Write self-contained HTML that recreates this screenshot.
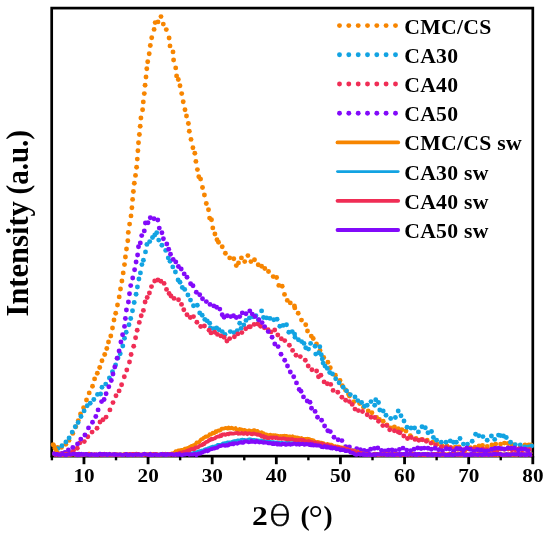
<!DOCTYPE html>
<html lang="en"><head><meta charset="utf-8"><title>XRD patterns</title>
<style>
html,body{margin:0;padding:0;background:#fff;}
body{width:550px;height:533px;overflow:hidden;}
svg{display:block;}
</style></head>
<body>
<svg width="550" height="533" viewBox="0 0 550 533">
<rect width="550" height="533" fill="#fff"/>
<g stroke="#000" fill="none">
<rect x="51.7" y="8.1" width="481.09999999999997" height="448.04999999999995" stroke-width="2.7"/>
<line x1="51.90" y1="456.15" x2="51.90" y2="460.3" stroke-width="2.4"/>
<line x1="83.96" y1="456.15" x2="83.96" y2="464.2" stroke-width="2.8"/>
<line x1="116.02" y1="456.15" x2="116.02" y2="460.3" stroke-width="2.4"/>
<line x1="148.08" y1="456.15" x2="148.08" y2="464.2" stroke-width="2.8"/>
<line x1="180.14" y1="456.15" x2="180.14" y2="460.3" stroke-width="2.4"/>
<line x1="212.20" y1="456.15" x2="212.20" y2="464.2" stroke-width="2.8"/>
<line x1="244.26" y1="456.15" x2="244.26" y2="460.3" stroke-width="2.4"/>
<line x1="276.32" y1="456.15" x2="276.32" y2="464.2" stroke-width="2.8"/>
<line x1="308.38" y1="456.15" x2="308.38" y2="460.3" stroke-width="2.4"/>
<line x1="340.44" y1="456.15" x2="340.44" y2="464.2" stroke-width="2.8"/>
<line x1="372.50" y1="456.15" x2="372.50" y2="460.3" stroke-width="2.4"/>
<line x1="404.56" y1="456.15" x2="404.56" y2="464.2" stroke-width="2.8"/>
<line x1="436.62" y1="456.15" x2="436.62" y2="460.3" stroke-width="2.4"/>
<line x1="468.68" y1="456.15" x2="468.68" y2="464.2" stroke-width="2.8"/>
<line x1="500.74" y1="456.15" x2="500.74" y2="460.3" stroke-width="2.4"/>
<line x1="532.80" y1="456.15" x2="532.80" y2="464.2" stroke-width="2.8"/>
</g>
<g fill="#F78500"><circle cx="53.1" cy="444.8" r="2.45"/><circle cx="55.0" cy="448.6" r="2.45"/><circle cx="57.5" cy="447.4" r="2.45"/><circle cx="61.4" cy="447.4" r="2.45"/><circle cx="65.8" cy="444.2" r="2.45"/><circle cx="69.0" cy="440.4" r="2.45"/><circle cx="72.8" cy="433.4" r="2.45"/><circle cx="75.8" cy="426.8" r="2.45"/><circle cx="78.3" cy="420.6" r="2.45"/><circle cx="80.5" cy="414.0" r="2.45"/><circle cx="83.6" cy="407.8" r="2.45"/><circle cx="86.5" cy="400.0" r="2.45"/><circle cx="89.2" cy="392.9" r="2.45"/><circle cx="92.5" cy="386.3" r="2.45"/><circle cx="94.6" cy="378.9" r="2.45"/><circle cx="97.3" cy="373.3" r="2.45"/><circle cx="99.7" cy="367.5" r="2.45"/><circle cx="102.0" cy="360.7" r="2.45"/><circle cx="104.7" cy="354.5" r="2.45"/><circle cx="106.8" cy="348.5" r="2.45"/><circle cx="108.5" cy="342.0" r="2.45"/><circle cx="110.8" cy="336.0" r="2.45"/><circle cx="112.5" cy="328.0" r="2.45"/><circle cx="114.0" cy="320.0" r="2.45"/><circle cx="115.7" cy="313.2" r="2.45"/><circle cx="117.5" cy="305.0" r="2.45"/><circle cx="119.2" cy="296.9" r="2.45"/><circle cx="120.5" cy="289.0" r="2.45"/><circle cx="121.9" cy="281.0" r="2.45"/><circle cx="123.2" cy="272.9" r="2.45"/><circle cx="124.5" cy="264.6" r="2.45"/><circle cx="125.4" cy="257.0" r="2.45"/><circle cx="126.5" cy="249.0" r="2.45"/><circle cx="127.8" cy="240.7" r="2.45"/><circle cx="128.3" cy="232.4" r="2.45"/><circle cx="129.6" cy="224.1" r="2.45"/><circle cx="131.0" cy="215.9" r="2.45"/><circle cx="131.9" cy="207.8" r="2.45"/><circle cx="132.6" cy="199.4" r="2.45"/><circle cx="133.4" cy="191.5" r="2.45"/><circle cx="134.3" cy="183.3" r="2.45"/><circle cx="135.5" cy="175.4" r="2.45"/><circle cx="136.6" cy="167.2" r="2.45"/><circle cx="137.3" cy="159.1" r="2.45"/><circle cx="137.9" cy="150.8" r="2.45"/><circle cx="138.5" cy="142.8" r="2.45"/><circle cx="139.4" cy="134.5" r="2.45"/><circle cx="140.2" cy="126.3" r="2.45"/><circle cx="140.9" cy="118.0" r="2.45"/><circle cx="142.6" cy="109.8" r="2.45"/><circle cx="143.3" cy="101.9" r="2.45"/><circle cx="144.3" cy="93.6" r="2.45"/><circle cx="145.1" cy="85.3" r="2.45"/><circle cx="146.0" cy="77.0" r="2.45"/><circle cx="146.8" cy="68.8" r="2.45"/><circle cx="147.7" cy="61.7" r="2.45"/><circle cx="149.2" cy="53.8" r="2.45"/><circle cx="150.3" cy="45.5" r="2.45"/><circle cx="151.7" cy="37.8" r="2.45"/><circle cx="154.1" cy="29.4" r="2.45"/><circle cx="155.2" cy="22.6" r="2.45"/><circle cx="158.0" cy="21.9" r="2.45"/><circle cx="161.0" cy="16.6" r="2.45"/><circle cx="163.3" cy="24.1" r="2.45"/><circle cx="166.3" cy="29.6" r="2.45"/><circle cx="169.1" cy="38.0" r="2.45"/><circle cx="170.0" cy="45.9" r="2.45"/><circle cx="173.0" cy="51.9" r="2.45"/><circle cx="173.6" cy="60.0" r="2.45"/><circle cx="175.7" cy="67.9" r="2.45"/><circle cx="176.6" cy="75.9" r="2.45"/><circle cx="178.3" cy="79.5" r="2.45"/><circle cx="180.0" cy="85.7" r="2.45"/><circle cx="181.7" cy="93.6" r="2.45"/><circle cx="183.2" cy="101.8" r="2.45"/><circle cx="185.0" cy="109.8" r="2.45"/><circle cx="186.5" cy="116.0" r="2.45"/><circle cx="188.4" cy="123.5" r="2.45"/><circle cx="189.3" cy="131.3" r="2.45"/><circle cx="191.0" cy="139.4" r="2.45"/><circle cx="192.9" cy="147.7" r="2.45"/><circle cx="194.8" cy="153.3" r="2.45"/><circle cx="195.9" cy="161.4" r="2.45"/><circle cx="197.4" cy="169.6" r="2.45"/><circle cx="198.8" cy="176.8" r="2.45"/><circle cx="200.6" cy="179.1" r="2.45"/><circle cx="202.5" cy="187.5" r="2.45"/><circle cx="204.4" cy="195.0" r="2.45"/><circle cx="206.3" cy="203.5" r="2.45"/><circle cx="208.5" cy="209.7" r="2.45"/><circle cx="209.6" cy="218.1" r="2.45"/><circle cx="211.5" cy="219.8" r="2.45"/><circle cx="212.8" cy="227.9" r="2.45"/><circle cx="214.9" cy="234.0" r="2.45"/><circle cx="217.0" cy="239.7" r="2.45"/><circle cx="218.5" cy="242.3" r="2.45"/><circle cx="222.2" cy="246.8" r="2.45"/><circle cx="225.4" cy="253.2" r="2.45"/><circle cx="229.7" cy="257.9" r="2.45"/><circle cx="233.8" cy="258.8" r="2.45"/><circle cx="238.5" cy="262.9" r="2.45"/><circle cx="236.3" cy="265.6" r="2.45"/><circle cx="241.4" cy="257.9" r="2.45"/><circle cx="244.7" cy="261.6" r="2.45"/><circle cx="247.9" cy="255.6" r="2.45"/><circle cx="250.9" cy="261.6" r="2.45"/><circle cx="254.5" cy="259.7" r="2.45"/><circle cx="258.2" cy="264.8" r="2.45"/><circle cx="261.6" cy="266.3" r="2.45"/><circle cx="264.8" cy="268.5" r="2.45"/><circle cx="268.5" cy="271.5" r="2.45"/><circle cx="273.2" cy="276.6" r="2.45"/><circle cx="276.6" cy="277.5" r="2.45"/><circle cx="278.8" cy="285.4" r="2.45"/><circle cx="282.2" cy="286.3" r="2.45"/><circle cx="284.5" cy="294.4" r="2.45"/><circle cx="287.3" cy="300.4" r="2.45"/><circle cx="290.3" cy="302.9" r="2.45"/><circle cx="294.4" cy="306.0" r="2.45"/><circle cx="294.8" cy="307.9" r="2.45"/><circle cx="298.2" cy="313.2" r="2.45"/><circle cx="301.5" cy="320.1" r="2.45"/><circle cx="305.7" cy="324.8" r="2.45"/><circle cx="307.5" cy="331.0" r="2.45"/><circle cx="311.3" cy="336.1" r="2.45"/><circle cx="313.2" cy="338.5" r="2.45"/><circle cx="316.5" cy="344.0" r="2.45"/><circle cx="320.0" cy="350.5" r="2.45"/><circle cx="323.7" cy="357.5" r="2.45"/><circle cx="327.9" cy="362.2" r="2.45"/><circle cx="330.3" cy="367.8" r="2.45"/><circle cx="335.4" cy="375.3" r="2.45"/><circle cx="340.0" cy="380.4" r="2.45"/><circle cx="342.3" cy="385.7" r="2.45"/><circle cx="345.5" cy="390.0" r="2.45"/><circle cx="348.5" cy="394.1" r="2.45"/><circle cx="349.4" cy="396.0" r="2.45"/><circle cx="354.1" cy="401.6" r="2.45"/><circle cx="359.7" cy="403.5" r="2.45"/><circle cx="363.5" cy="407.2" r="2.45"/><circle cx="368.2" cy="411.0" r="2.45"/><circle cx="371.9" cy="412.8" r="2.45"/><circle cx="376.6" cy="417.5" r="2.45"/><circle cx="379.4" cy="419.4" r="2.45"/><circle cx="383.2" cy="421.3" r="2.45"/><circle cx="386.9" cy="425.0" r="2.45"/><circle cx="390.7" cy="427.9" r="2.45"/><circle cx="394.4" cy="426.9" r="2.45"/><circle cx="398.2" cy="428.8" r="2.45"/><circle cx="401.9" cy="429.7" r="2.45"/><circle cx="406.0" cy="431.0" r="2.45"/><circle cx="410.3" cy="435.7" r="2.45"/><circle cx="416.0" cy="438.5" r="2.45"/><circle cx="421.6" cy="439.4" r="2.45"/><circle cx="427.2" cy="440.3" r="2.45"/><circle cx="432.8" cy="442.2" r="2.45"/><circle cx="437.5" cy="444.1" r="2.45"/><circle cx="442.2" cy="446.0" r="2.45"/><circle cx="446.9" cy="446.0" r="2.45"/><circle cx="450.6" cy="447.8" r="2.45"/><circle cx="455.3" cy="447.3" r="2.45"/><circle cx="459.0" cy="446.9" r="2.45"/><circle cx="464.7" cy="450.6" r="2.45"/><circle cx="470.3" cy="447.8" r="2.45"/><circle cx="475.0" cy="447.3" r="2.45"/><circle cx="479.0" cy="446.0" r="2.45"/><circle cx="482.5" cy="445.4" r="2.45"/><circle cx="487.2" cy="446.5" r="2.45"/><circle cx="491.9" cy="445.0" r="2.45"/><circle cx="495.7" cy="444.1" r="2.45"/><circle cx="500.6" cy="444.1" r="2.45"/><circle cx="504.4" cy="443.1" r="2.45"/><circle cx="508.1" cy="443.5" r="2.45"/><circle cx="511.5" cy="444.3" r="2.45"/><circle cx="514.7" cy="445.0" r="2.45"/><circle cx="520.3" cy="446.0" r="2.45"/><circle cx="525.0" cy="445.0" r="2.45"/><circle cx="528.8" cy="445.0" r="2.45"/><circle cx="531.0" cy="445.0" r="2.45"/></g>
<g fill="#12A3E2"><circle cx="57.9" cy="448.6" r="2.45"/><circle cx="62.0" cy="445.8" r="2.45"/><circle cx="65.9" cy="442.0" r="2.45"/><circle cx="69.1" cy="438.0" r="2.45"/><circle cx="72.2" cy="432.1" r="2.45"/><circle cx="75.3" cy="426.7" r="2.45"/><circle cx="78.1" cy="422.5" r="2.45"/><circle cx="81.0" cy="416.5" r="2.45"/><circle cx="84.1" cy="410.9" r="2.45"/><circle cx="87.2" cy="405.7" r="2.45"/><circle cx="90.2" cy="403.3" r="2.45"/><circle cx="93.8" cy="399.5" r="2.45"/><circle cx="97.5" cy="394.4" r="2.45"/><circle cx="100.6" cy="394.0" r="2.45"/><circle cx="102.0" cy="387.2" r="2.45"/><circle cx="105.7" cy="384.1" r="2.45"/><circle cx="109.4" cy="377.9" r="2.45"/><circle cx="112.5" cy="371.7" r="2.45"/><circle cx="115.6" cy="364.9" r="2.45"/><circle cx="118.0" cy="358.0" r="2.45"/><circle cx="120.2" cy="353.7" r="2.45"/><circle cx="122.8" cy="346.0" r="2.45"/><circle cx="124.5" cy="338.2" r="2.45"/><circle cx="126.2" cy="332.2" r="2.45"/><circle cx="129.0" cy="324.7" r="2.45"/><circle cx="130.7" cy="318.5" r="2.45"/><circle cx="132.5" cy="310.8" r="2.45"/><circle cx="134.2" cy="302.5" r="2.45"/><circle cx="136.1" cy="294.3" r="2.45"/><circle cx="137.4" cy="287.0" r="2.45"/><circle cx="138.9" cy="279.0" r="2.45"/><circle cx="140.4" cy="272.9" r="2.45"/><circle cx="141.9" cy="264.6" r="2.45"/><circle cx="143.4" cy="260.3" r="2.45"/><circle cx="145.5" cy="251.9" r="2.45"/><circle cx="146.9" cy="244.4" r="2.45"/><circle cx="149.7" cy="241.6" r="2.45"/><circle cx="152.5" cy="237.5" r="2.45"/><circle cx="154.8" cy="235.0" r="2.45"/><circle cx="156.7" cy="232.8" r="2.45"/><circle cx="158.7" cy="240.1" r="2.45"/><circle cx="161.9" cy="245.3" r="2.45"/><circle cx="165.7" cy="250.4" r="2.45"/><circle cx="168.3" cy="257.9" r="2.45"/><circle cx="170.0" cy="261.3" r="2.45"/><circle cx="172.8" cy="266.9" r="2.45"/><circle cx="175.4" cy="272.0" r="2.45"/><circle cx="178.1" cy="280.0" r="2.45"/><circle cx="180.0" cy="282.3" r="2.45"/><circle cx="182.3" cy="287.5" r="2.45"/><circle cx="184.7" cy="289.4" r="2.45"/><circle cx="187.9" cy="295.0" r="2.45"/><circle cx="190.5" cy="300.1" r="2.45"/><circle cx="193.5" cy="305.7" r="2.45"/><circle cx="197.3" cy="305.3" r="2.45"/><circle cx="199.7" cy="312.9" r="2.45"/><circle cx="202.2" cy="315.3" r="2.45"/><circle cx="204.8" cy="319.4" r="2.45"/><circle cx="207.2" cy="320.9" r="2.45"/><circle cx="209.7" cy="323.2" r="2.45"/><circle cx="210.4" cy="327.9" r="2.45"/><circle cx="213.8" cy="328.8" r="2.45"/><circle cx="216.6" cy="327.9" r="2.45"/><circle cx="219.0" cy="329.7" r="2.45"/><circle cx="222.2" cy="331.6" r="2.45"/><circle cx="225.0" cy="334.4" r="2.45"/><circle cx="230.3" cy="331.6" r="2.45"/><circle cx="234.0" cy="332.6" r="2.45"/><circle cx="237.2" cy="330.7" r="2.45"/><circle cx="241.0" cy="328.4" r="2.45"/><circle cx="239.7" cy="323.2" r="2.45"/><circle cx="243.8" cy="325.0" r="2.45"/><circle cx="246.0" cy="320.4" r="2.45"/><circle cx="249.4" cy="317.9" r="2.45"/><circle cx="253.1" cy="316.9" r="2.45"/><circle cx="255.9" cy="315.6" r="2.45"/><circle cx="258.4" cy="319.7" r="2.45"/><circle cx="261.6" cy="310.9" r="2.45"/><circle cx="263.5" cy="317.5" r="2.45"/><circle cx="266.6" cy="317.9" r="2.45"/><circle cx="270.0" cy="318.4" r="2.45"/><circle cx="273.8" cy="319.7" r="2.45"/><circle cx="277.1" cy="319.2" r="2.45"/><circle cx="279.8" cy="326.3" r="2.45"/><circle cx="283.1" cy="325.4" r="2.45"/><circle cx="286.5" cy="324.8" r="2.45"/><circle cx="288.8" cy="332.2" r="2.45"/><circle cx="292.2" cy="331.6" r="2.45"/><circle cx="294.6" cy="334.1" r="2.45"/><circle cx="295.0" cy="337.3" r="2.45"/><circle cx="298.4" cy="339.7" r="2.45"/><circle cx="301.6" cy="341.6" r="2.45"/><circle cx="304.0" cy="343.4" r="2.45"/><circle cx="305.7" cy="347.8" r="2.45"/><circle cx="308.5" cy="349.1" r="2.45"/><circle cx="310.6" cy="343.4" r="2.45"/><circle cx="315.1" cy="346.3" r="2.45"/><circle cx="319.8" cy="346.8" r="2.45"/><circle cx="315.7" cy="354.1" r="2.45"/><circle cx="318.8" cy="352.8" r="2.45"/><circle cx="321.3" cy="354.7" r="2.45"/><circle cx="322.3" cy="359.0" r="2.45"/><circle cx="323.1" cy="363.1" r="2.45"/><circle cx="325.0" cy="366.0" r="2.45"/><circle cx="327.3" cy="368.4" r="2.45"/><circle cx="329.7" cy="372.5" r="2.45"/><circle cx="332.5" cy="374.0" r="2.45"/><circle cx="335.7" cy="378.7" r="2.45"/><circle cx="339.1" cy="382.8" r="2.45"/><circle cx="343.2" cy="387.2" r="2.45"/><circle cx="346.6" cy="390.9" r="2.45"/><circle cx="350.3" cy="394.6" r="2.45"/><circle cx="355.0" cy="396.9" r="2.45"/><circle cx="357.8" cy="400.6" r="2.45"/><circle cx="361.6" cy="402.5" r="2.45"/><circle cx="364.4" cy="406.3" r="2.45"/><circle cx="367.2" cy="405.3" r="2.45"/><circle cx="371.0" cy="401.6" r="2.45"/><circle cx="375.7" cy="399.7" r="2.45"/><circle cx="378.5" cy="402.5" r="2.45"/><circle cx="374.7" cy="405.3" r="2.45"/><circle cx="379.8" cy="410.0" r="2.45"/><circle cx="383.2" cy="411.0" r="2.45"/><circle cx="386.0" cy="415.3" r="2.45"/><circle cx="390.7" cy="418.5" r="2.45"/><circle cx="395.4" cy="417.5" r="2.45"/><circle cx="398.2" cy="411.0" r="2.45"/><circle cx="401.0" cy="415.7" r="2.45"/><circle cx="404.0" cy="421.0" r="2.45"/><circle cx="407.0" cy="427.2" r="2.45"/><circle cx="411.0" cy="428.0" r="2.45"/><circle cx="414.6" cy="428.0" r="2.45"/><circle cx="418.4" cy="431.9" r="2.45"/><circle cx="422.0" cy="426.8" r="2.45"/><circle cx="425.3" cy="427.8" r="2.45"/><circle cx="428.0" cy="432.8" r="2.45"/><circle cx="431.5" cy="431.5" r="2.45"/><circle cx="433.4" cy="437.5" r="2.45"/><circle cx="436.6" cy="440.3" r="2.45"/><circle cx="441.3" cy="442.2" r="2.45"/><circle cx="446.0" cy="442.2" r="2.45"/><circle cx="450.3" cy="440.9" r="2.45"/><circle cx="453.5" cy="442.2" r="2.45"/><circle cx="456.3" cy="442.2" r="2.45"/><circle cx="460.0" cy="438.5" r="2.45"/><circle cx="463.4" cy="444.1" r="2.45"/><circle cx="467.5" cy="444.1" r="2.45"/><circle cx="472.2" cy="441.3" r="2.45"/><circle cx="475.6" cy="434.2" r="2.45"/><circle cx="478.8" cy="435.7" r="2.45"/><circle cx="482.9" cy="436.6" r="2.45"/><circle cx="487.2" cy="440.3" r="2.45"/><circle cx="491.4" cy="436.0" r="2.45"/><circle cx="494.7" cy="439.4" r="2.45"/><circle cx="498.5" cy="435.1" r="2.45"/><circle cx="500.6" cy="435.6" r="2.45"/><circle cx="503.5" cy="436.0" r="2.45"/><circle cx="506.3" cy="437.5" r="2.45"/><circle cx="510.6" cy="442.2" r="2.45"/><circle cx="515.3" cy="444.6" r="2.45"/><circle cx="520.3" cy="445.0" r="2.45"/><circle cx="525.0" cy="446.9" r="2.45"/><circle cx="528.8" cy="446.9" r="2.45"/><circle cx="531.6" cy="446.0" r="2.45"/></g>
<g fill="#F02D55"><circle cx="54.5" cy="453.8" r="2.45"/><circle cx="58.0" cy="453.8" r="2.45"/><circle cx="62.0" cy="453.8" r="2.45"/><circle cx="66.0" cy="453.6" r="2.45"/><circle cx="70.0" cy="452.6" r="2.45"/><circle cx="73.5" cy="450.5" r="2.45"/><circle cx="77.3" cy="448.3" r="2.45"/><circle cx="79.8" cy="442.9" r="2.45"/><circle cx="84.3" cy="441.6" r="2.45"/><circle cx="87.8" cy="436.7" r="2.45"/><circle cx="92.1" cy="432.1" r="2.45"/><circle cx="97.0" cy="428.3" r="2.45"/><circle cx="100.0" cy="422.0" r="2.45"/><circle cx="103.0" cy="419.8" r="2.45"/><circle cx="106.1" cy="417.1" r="2.45"/><circle cx="109.9" cy="409.9" r="2.45"/><circle cx="113.0" cy="402.6" r="2.45"/><circle cx="116.0" cy="395.8" r="2.45"/><circle cx="119.1" cy="390.9" r="2.45"/><circle cx="121.6" cy="384.7" r="2.45"/><circle cx="124.3" cy="376.8" r="2.45"/><circle cx="126.8" cy="370.0" r="2.45"/><circle cx="129.5" cy="362.0" r="2.45"/><circle cx="131.1" cy="354.5" r="2.45"/><circle cx="133.7" cy="346.2" r="2.45"/><circle cx="135.6" cy="337.8" r="2.45"/><circle cx="137.2" cy="330.3" r="2.45"/><circle cx="139.3" cy="322.4" r="2.45"/><circle cx="141.2" cy="315.7" r="2.45"/><circle cx="143.4" cy="310.4" r="2.45"/><circle cx="145.1" cy="302.0" r="2.45"/><circle cx="147.2" cy="297.5" r="2.45"/><circle cx="149.4" cy="293.0" r="2.45"/><circle cx="151.5" cy="286.6" r="2.45"/><circle cx="154.7" cy="281.0" r="2.45"/><circle cx="157.9" cy="280.0" r="2.45"/><circle cx="160.9" cy="281.3" r="2.45"/><circle cx="164.1" cy="283.4" r="2.45"/><circle cx="166.5" cy="289.4" r="2.45"/><circle cx="169.1" cy="293.5" r="2.45"/><circle cx="171.0" cy="296.0" r="2.45"/><circle cx="174.0" cy="298.4" r="2.45"/><circle cx="178.5" cy="299.7" r="2.45"/><circle cx="181.5" cy="304.4" r="2.45"/><circle cx="183.8" cy="309.7" r="2.45"/><circle cx="187.0" cy="314.7" r="2.45"/><circle cx="190.3" cy="317.5" r="2.45"/><circle cx="193.5" cy="316.6" r="2.45"/><circle cx="196.9" cy="322.2" r="2.45"/><circle cx="200.7" cy="326.5" r="2.45"/><circle cx="204.4" cy="326.0" r="2.45"/><circle cx="209.1" cy="330.3" r="2.45"/><circle cx="211.0" cy="332.9" r="2.45"/><circle cx="214.7" cy="332.2" r="2.45"/><circle cx="217.5" cy="334.4" r="2.45"/><circle cx="220.9" cy="335.9" r="2.45"/><circle cx="224.1" cy="337.2" r="2.45"/><circle cx="226.9" cy="341.0" r="2.45"/><circle cx="229.7" cy="338.6" r="2.45"/><circle cx="234.4" cy="336.7" r="2.45"/><circle cx="237.8" cy="333.9" r="2.45"/><circle cx="241.9" cy="332.6" r="2.45"/><circle cx="245.7" cy="328.8" r="2.45"/><circle cx="249.0" cy="326.9" r="2.45"/><circle cx="250.3" cy="326.7" r="2.45"/><circle cx="254.1" cy="324.4" r="2.45"/><circle cx="257.8" cy="324.0" r="2.45"/><circle cx="260.6" cy="326.3" r="2.45"/><circle cx="264.4" cy="327.8" r="2.45"/><circle cx="268.1" cy="329.7" r="2.45"/><circle cx="271.0" cy="331.9" r="2.45"/><circle cx="274.7" cy="330.0" r="2.45"/><circle cx="277.8" cy="335.0" r="2.45"/><circle cx="281.3" cy="338.8" r="2.45"/><circle cx="284.7" cy="340.6" r="2.45"/><circle cx="289.4" cy="345.3" r="2.45"/><circle cx="292.6" cy="350.4" r="2.45"/><circle cx="296.0" cy="355.3" r="2.45"/><circle cx="300.3" cy="356.6" r="2.45"/><circle cx="305.3" cy="360.3" r="2.45"/><circle cx="308.2" cy="366.0" r="2.45"/><circle cx="311.9" cy="369.7" r="2.45"/><circle cx="316.6" cy="371.0" r="2.45"/><circle cx="318.5" cy="376.7" r="2.45"/><circle cx="320.9" cy="375.3" r="2.45"/><circle cx="324.1" cy="381.9" r="2.45"/><circle cx="327.3" cy="383.8" r="2.45"/><circle cx="330.7" cy="384.4" r="2.45"/><circle cx="333.1" cy="390.4" r="2.45"/><circle cx="337.8" cy="392.2" r="2.45"/><circle cx="341.9" cy="397.3" r="2.45"/><circle cx="345.7" cy="400.3" r="2.45"/><circle cx="349.4" cy="401.6" r="2.45"/><circle cx="352.2" cy="404.4" r="2.45"/><circle cx="355.0" cy="409.1" r="2.45"/><circle cx="358.4" cy="410.6" r="2.45"/><circle cx="362.5" cy="411.5" r="2.45"/><circle cx="367.2" cy="414.7" r="2.45"/><circle cx="371.0" cy="417.2" r="2.45"/><circle cx="374.7" cy="417.5" r="2.45"/><circle cx="378.5" cy="421.3" r="2.45"/><circle cx="382.8" cy="425.6" r="2.45"/><circle cx="386.9" cy="425.6" r="2.45"/><circle cx="389.7" cy="429.7" r="2.45"/><circle cx="394.4" cy="430.7" r="2.45"/><circle cx="398.2" cy="432.0" r="2.45"/><circle cx="400.0" cy="432.8" r="2.45"/><circle cx="403.8" cy="436.0" r="2.45"/><circle cx="407.5" cy="438.5" r="2.45"/><circle cx="411.3" cy="437.5" r="2.45"/><circle cx="415.0" cy="439.4" r="2.45"/><circle cx="418.8" cy="440.3" r="2.45"/><circle cx="422.5" cy="439.8" r="2.45"/><circle cx="426.3" cy="441.3" r="2.45"/><circle cx="431.0" cy="443.1" r="2.45"/><circle cx="435.6" cy="445.0" r="2.45"/><circle cx="441.3" cy="446.9" r="2.45"/><circle cx="446.0" cy="447.3" r="2.45"/><circle cx="450.6" cy="447.8" r="2.45"/><circle cx="454.4" cy="449.7" r="2.45"/><circle cx="458.0" cy="449.3" r="2.45"/><circle cx="461.4" cy="449.8" r="2.45"/><circle cx="464.6" cy="449.7" r="2.45"/><circle cx="468.2" cy="448.9" r="2.45"/><circle cx="471.9" cy="448.9" r="2.45"/><circle cx="475.5" cy="448.9" r="2.45"/><circle cx="478.8" cy="449.5" r="2.45"/><circle cx="482.8" cy="449.0" r="2.45"/><circle cx="486.3" cy="449.8" r="2.45"/><circle cx="490.4" cy="449.7" r="2.45"/><circle cx="494.0" cy="450.4" r="2.45"/><circle cx="497.3" cy="450.2" r="2.45"/><circle cx="500.8" cy="449.0" r="2.45"/><circle cx="504.1" cy="449.3" r="2.45"/><circle cx="508.1" cy="449.1" r="2.45"/><circle cx="511.9" cy="449.8" r="2.45"/><circle cx="515.4" cy="449.7" r="2.45"/><circle cx="518.7" cy="448.9" r="2.45"/><circle cx="522.1" cy="449.9" r="2.45"/><circle cx="525.7" cy="449.3" r="2.45"/><circle cx="529.5" cy="449.5" r="2.45"/></g>
<g fill="#820AFA"><circle cx="54.5" cy="453.8" r="2.45"/><circle cx="58.0" cy="453.6" r="2.45"/><circle cx="62.0" cy="453.4" r="2.45"/><circle cx="65.0" cy="452.4" r="2.45"/><circle cx="68.4" cy="449.9" r="2.45"/><circle cx="72.8" cy="447.4" r="2.45"/><circle cx="77.5" cy="443.9" r="2.45"/><circle cx="80.8" cy="439.1" r="2.45"/><circle cx="84.9" cy="435.0" r="2.45"/><circle cx="88.5" cy="427.9" r="2.45"/><circle cx="92.5" cy="422.3" r="2.45"/><circle cx="95.8" cy="416.5" r="2.45"/><circle cx="98.1" cy="409.9" r="2.45"/><circle cx="101.6" cy="401.6" r="2.45"/><circle cx="104.1" cy="399.5" r="2.45"/><circle cx="106.1" cy="393.8" r="2.45"/><circle cx="108.8" cy="386.7" r="2.45"/><circle cx="111.3" cy="380.5" r="2.45"/><circle cx="113.0" cy="374.0" r="2.45"/><circle cx="114.8" cy="367.0" r="2.45"/><circle cx="117.1" cy="358.3" r="2.45"/><circle cx="119.1" cy="351.0" r="2.45"/><circle cx="120.9" cy="342.0" r="2.45"/><circle cx="122.6" cy="334.8" r="2.45"/><circle cx="124.5" cy="326.4" r="2.45"/><circle cx="125.4" cy="318.5" r="2.45"/><circle cx="126.4" cy="310.0" r="2.45"/><circle cx="128.4" cy="302.0" r="2.45"/><circle cx="129.5" cy="293.7" r="2.45"/><circle cx="130.7" cy="285.6" r="2.45"/><circle cx="132.7" cy="278.0" r="2.45"/><circle cx="134.6" cy="269.7" r="2.45"/><circle cx="136.1" cy="262.0" r="2.45"/><circle cx="137.6" cy="255.0" r="2.45"/><circle cx="138.5" cy="246.7" r="2.45"/><circle cx="140.3" cy="242.9" r="2.45"/><circle cx="141.7" cy="235.6" r="2.45"/><circle cx="144.3" cy="230.9" r="2.45"/><circle cx="145.4" cy="223.0" r="2.45"/><circle cx="148.0" cy="222.8" r="2.45"/><circle cx="150.3" cy="217.8" r="2.45"/><circle cx="154.0" cy="218.7" r="2.45"/><circle cx="157.8" cy="220.0" r="2.45"/><circle cx="159.3" cy="228.1" r="2.45"/><circle cx="161.9" cy="232.8" r="2.45"/><circle cx="163.4" cy="238.8" r="2.45"/><circle cx="166.8" cy="244.0" r="2.45"/><circle cx="168.7" cy="249.3" r="2.45"/><circle cx="170.5" cy="254.2" r="2.45"/><circle cx="173.2" cy="259.4" r="2.45"/><circle cx="175.8" cy="261.9" r="2.45"/><circle cx="178.4" cy="266.5" r="2.45"/><circle cx="181.2" cy="269.0" r="2.45"/><circle cx="184.2" cy="273.9" r="2.45"/><circle cx="187.0" cy="277.2" r="2.45"/><circle cx="190.6" cy="283.8" r="2.45"/><circle cx="193.0" cy="285.7" r="2.45"/><circle cx="196.3" cy="292.2" r="2.45"/><circle cx="199.7" cy="294.7" r="2.45"/><circle cx="202.5" cy="298.8" r="2.45"/><circle cx="206.3" cy="301.6" r="2.45"/><circle cx="210.0" cy="304.4" r="2.45"/><circle cx="213.8" cy="305.9" r="2.45"/><circle cx="216.6" cy="307.2" r="2.45"/><circle cx="219.8" cy="309.1" r="2.45"/><circle cx="222.2" cy="314.7" r="2.45"/><circle cx="224.1" cy="317.2" r="2.45"/><circle cx="227.3" cy="315.7" r="2.45"/><circle cx="230.7" cy="316.6" r="2.45"/><circle cx="233.5" cy="315.7" r="2.45"/><circle cx="236.3" cy="317.5" r="2.45"/><circle cx="239.7" cy="316.6" r="2.45"/><circle cx="242.3" cy="312.9" r="2.45"/><circle cx="246.0" cy="313.8" r="2.45"/><circle cx="249.8" cy="310.9" r="2.45"/><circle cx="252.2" cy="314.1" r="2.45"/><circle cx="255.0" cy="316.5" r="2.45"/><circle cx="258.8" cy="319.7" r="2.45"/><circle cx="262.1" cy="322.6" r="2.45"/><circle cx="264.6" cy="326.6" r="2.45"/><circle cx="268.2" cy="331.6" r="2.45"/><circle cx="272.1" cy="337.3" r="2.45"/><circle cx="274.8" cy="344.0" r="2.45"/><circle cx="278.1" cy="346.6" r="2.45"/><circle cx="281.0" cy="354.3" r="2.45"/><circle cx="284.7" cy="360.3" r="2.45"/><circle cx="287.5" cy="366.0" r="2.45"/><circle cx="290.3" cy="372.0" r="2.45"/><circle cx="293.7" cy="376.7" r="2.45"/><circle cx="296.5" cy="382.9" r="2.45"/><circle cx="299.2" cy="389.4" r="2.45"/><circle cx="301.0" cy="391.3" r="2.45"/><circle cx="303.5" cy="396.9" r="2.45"/><circle cx="307.2" cy="401.0" r="2.45"/><circle cx="310.0" cy="402.2" r="2.45"/><circle cx="311.5" cy="408.2" r="2.45"/><circle cx="315.1" cy="411.4" r="2.45"/><circle cx="317.5" cy="417.2" r="2.45"/><circle cx="321.6" cy="420.3" r="2.45"/><circle cx="324.6" cy="426.0" r="2.45"/><circle cx="327.8" cy="430.7" r="2.45"/><circle cx="330.3" cy="431.6" r="2.45"/><circle cx="334.0" cy="437.2" r="2.45"/><circle cx="338.1" cy="439.7" r="2.45"/><circle cx="341.9" cy="440.6" r="2.45"/><circle cx="345.6" cy="446.6" r="2.45"/><circle cx="349.4" cy="447.0" r="2.45"/><circle cx="353.0" cy="450.6" r="2.45"/><circle cx="356.7" cy="448.7" r="2.45"/><circle cx="360.3" cy="449.7" r="2.45"/><circle cx="364.1" cy="450.4" r="2.45"/><circle cx="367.4" cy="451.2" r="2.45"/><circle cx="370.6" cy="449.3" r="2.45"/><circle cx="374.3" cy="448.4" r="2.45"/><circle cx="377.8" cy="448.0" r="2.45"/><circle cx="381.5" cy="450.5" r="2.45"/><circle cx="385.0" cy="450.9" r="2.45"/><circle cx="388.4" cy="450.3" r="2.45"/><circle cx="392.0" cy="449.9" r="2.45"/><circle cx="395.4" cy="450.8" r="2.45"/><circle cx="399.4" cy="449.5" r="2.45"/><circle cx="403.0" cy="448.1" r="2.45"/><circle cx="406.7" cy="450.1" r="2.45"/><circle cx="410.7" cy="450.7" r="2.45"/><circle cx="414.0" cy="449.2" r="2.45"/><circle cx="417.7" cy="448.0" r="2.45"/><circle cx="421.1" cy="448.5" r="2.45"/><circle cx="424.2" cy="448.1" r="2.45"/><circle cx="428.0" cy="448.3" r="2.45"/><circle cx="431.3" cy="449.2" r="2.45"/><circle cx="435.1" cy="448.2" r="2.45"/><circle cx="438.6" cy="449.8" r="2.45"/><circle cx="442.5" cy="450.7" r="2.45"/><circle cx="446.3" cy="448.8" r="2.45"/><circle cx="449.7" cy="449.1" r="2.45"/><circle cx="453.6" cy="451.2" r="2.45"/><circle cx="456.8" cy="448.5" r="2.45"/><circle cx="460.0" cy="448.7" r="2.45"/><circle cx="463.5" cy="449.9" r="2.45"/><circle cx="466.8" cy="447.9" r="2.45"/><circle cx="470.2" cy="449.2" r="2.45"/><circle cx="473.7" cy="451.1" r="2.45"/><circle cx="477.4" cy="449.7" r="2.45"/><circle cx="481.0" cy="450.2" r="2.45"/><circle cx="484.1" cy="451.0" r="2.45"/><circle cx="487.9" cy="450.9" r="2.45"/><circle cx="491.7" cy="449.2" r="2.45"/><circle cx="495.1" cy="448.3" r="2.45"/><circle cx="498.7" cy="448.1" r="2.45"/><circle cx="501.8" cy="448.6" r="2.45"/><circle cx="504.9" cy="449.1" r="2.45"/><circle cx="508.0" cy="447.9" r="2.45"/><circle cx="511.1" cy="448.2" r="2.45"/><circle cx="514.5" cy="448.0" r="2.45"/><circle cx="518.4" cy="450.0" r="2.45"/><circle cx="521.5" cy="448.8" r="2.45"/><circle cx="524.9" cy="449.1" r="2.45"/><circle cx="528.0" cy="450.8" r="2.45"/></g>
<polyline points="53.6,444.1 54.6,447.5 55.6,449.0 56.6,451.0 57.6,452.9 58.6,454.1 59.6,455.0 60.6,454.0 61.6,453.7 62.6,455.2 63.6,454.5 64.6,453.9 65.6,454.6 66.6,453.7 67.6,454.5 68.6,455.3 69.6,455.1 70.6,454.8 71.6,454.1 72.6,454.3 73.6,454.0 74.6,454.9 75.6,454.6 76.6,454.9 77.6,454.2 78.6,454.1 79.6,455.0 80.6,455.3 81.6,455.1 82.6,455.0 83.6,455.0 84.6,454.9 85.6,454.1 86.6,454.5 87.6,454.3 88.6,453.7 89.6,453.7 90.6,454.1 91.6,454.1 92.6,454.8 93.6,455.2 94.6,454.4 95.6,455.2 96.6,455.3 97.6,455.2 98.6,454.3 99.6,454.1 100.6,454.1 101.6,454.0 102.6,454.0 103.6,454.7 104.6,455.1 105.6,455.0 106.6,454.5 107.6,454.7 108.6,455.0 109.6,453.8 110.6,454.8 111.6,455.2 112.6,455.0 113.6,454.9 114.6,454.5 115.6,454.0 116.6,455.0 117.6,454.2 118.6,455.0 119.6,455.3 120.6,454.3 121.6,454.3 122.6,455.2 123.6,454.9 124.6,454.0 125.6,453.9 126.6,453.9 127.6,455.1 128.6,455.0 129.6,453.9 130.6,455.0 131.6,455.3 132.6,454.8 133.6,454.3 134.6,454.6 135.6,453.9 136.6,453.7 137.6,455.3 138.6,454.7 139.6,454.5 140.6,455.2 141.6,454.4 142.6,455.1 143.6,455.0 144.6,454.0 145.6,454.1 146.6,454.2 147.6,454.1 148.6,454.6 149.6,454.1 150.6,454.4 151.6,453.9 152.6,455.2 153.6,454.3 154.6,454.4 155.6,454.6 156.6,455.1 157.6,454.4 158.6,455.2 159.6,454.5 160.6,454.6 161.6,454.5 162.6,453.7 163.6,454.4 164.6,454.0 165.6,453.7 166.6,455.0 167.6,454.0 168.6,454.5 169.6,454.9 170.6,454.3 171.6,453.5 172.6,453.4 173.6,453.0 174.6,452.9 175.6,451.3 176.6,451.6 177.6,450.7 178.6,450.3 179.6,450.7 180.6,450.0 181.6,449.8 182.6,449.8 183.6,449.8 184.6,448.7 185.6,448.7 186.6,448.3 187.6,448.0 188.6,447.9 189.6,446.9 190.6,446.5 191.6,445.8 192.6,446.0 193.6,445.0 194.6,444.7 195.6,444.2 196.6,442.5 197.6,442.4 198.6,442.4 199.6,441.6 200.6,439.8 201.6,439.2 202.6,439.1 203.6,437.8 204.6,437.4 205.6,436.5 206.6,436.8 207.6,436.3 208.6,435.9 209.6,434.2 210.6,434.6 211.6,434.0 212.6,432.7 213.6,433.4 214.6,433.0 215.6,431.3 216.6,432.1 217.6,430.7 218.6,430.4 219.6,430.8 220.6,430.1 221.6,428.6 222.6,428.6 223.6,428.6 224.6,428.3 225.6,427.9 226.6,428.1 227.6,428.6 228.6,427.5 229.6,428.4 230.6,428.3 231.6,427.7 232.6,428.2 233.6,428.8 234.6,428.7 235.6,428.0 236.6,429.7 237.6,429.7 238.6,430.2 239.6,429.0 240.6,429.5 241.6,429.4 242.6,430.8 243.6,430.1 244.6,429.9 245.6,430.5 246.6,431.3 247.6,431.2 248.6,430.4 249.6,430.3 250.6,431.6 251.6,431.0 252.6,431.2 253.6,430.2 254.6,430.2 255.6,431.2 256.6,431.1 257.6,430.9 258.6,432.6 259.6,432.5 260.6,433.1 261.6,432.3 262.6,434.0 263.6,433.2 264.6,434.9 265.6,434.5 266.6,434.5 267.6,435.0 268.6,435.7 269.6,434.8 270.6,434.7 271.6,435.5 272.6,435.2 273.6,435.1 274.6,435.3 275.6,435.2 276.6,435.5 277.6,435.7 278.6,435.8 279.6,436.6 280.6,435.9 281.6,436.3 282.6,435.9 283.6,436.2 284.6,435.7 285.6,436.1 286.6,435.8 287.6,437.0 288.6,436.8 289.6,436.3 290.6,436.8 291.6,437.6 292.6,436.3 293.6,437.6 294.6,437.1 295.6,437.4 296.6,438.0 297.6,437.5 298.6,437.8 299.6,438.2 300.6,438.9 301.6,438.0 302.6,439.0 303.6,439.0 304.6,439.1 305.6,438.9 306.6,439.0 307.6,438.7 308.6,439.0 309.6,439.1 310.6,440.4 311.6,439.9 312.6,440.1 313.6,440.3 314.6,441.8 315.6,442.1 316.6,442.1 317.6,441.8 318.6,442.0 319.6,442.4 320.6,442.9 321.6,442.6 322.6,443.2 323.6,443.1 324.6,444.4 325.6,444.7 326.6,444.2 327.6,443.9 328.6,445.2 329.6,444.5 330.6,444.9 331.6,444.6 332.6,445.5 333.6,446.0 334.6,446.4 335.6,446.2 336.6,447.0 337.6,446.5 338.6,447.1 339.6,447.0 340.6,447.7 341.6,447.3 342.6,447.5 343.6,448.2 344.6,448.2 345.6,449.0 346.6,449.1 347.6,449.7 348.6,449.9 349.6,450.3 350.6,450.8 351.6,450.3 352.6,450.5 353.6,451.9 354.6,450.8 355.6,452.0 356.6,452.2 357.6,451.6 358.6,453.1 359.6,453.5 360.6,453.4 361.6,453.9 362.6,454.3 363.6,453.5 364.6,454.4 365.6,454.5 366.6,455.0 367.6,455.0 368.6,455.0 369.6,454.6 370.6,455.1 371.6,454.8 372.6,454.8 373.6,454.1 374.6,453.7 375.6,453.9 376.6,454.3 377.6,453.9 378.6,455.0 379.6,454.6 380.6,454.7 381.6,454.7 382.6,454.8 383.6,454.5 384.6,453.7 385.6,455.0 386.6,454.9 387.6,454.5 388.6,454.6 389.6,454.8 390.6,453.8 391.6,454.9 392.6,454.1 393.6,453.8 394.6,454.1 395.6,454.9 396.6,454.0 397.6,454.9 398.6,455.3 399.6,454.5 400.6,454.3 401.6,454.5 402.6,454.8 403.6,454.9 404.6,454.7 405.6,454.7 406.6,453.8 407.6,453.9 408.6,454.1 409.6,454.9 410.6,454.2 411.6,454.6 412.6,453.7 413.6,453.8 414.6,454.1 415.6,454.8 416.6,454.8 417.6,454.8 418.6,454.2 419.6,454.5 420.6,454.4 421.6,454.4 422.6,453.9 423.6,455.1 424.6,454.0 425.6,455.3 426.6,455.2 427.6,453.7 428.6,454.4 429.6,455.0 430.6,455.2 431.6,454.4 432.6,454.1 433.6,454.0 434.6,455.2 435.6,454.0 436.6,454.6 437.6,453.9 438.6,454.5 439.6,455.2 440.6,453.9 441.6,455.0 442.6,454.5 443.6,455.1 444.6,454.8 445.6,454.1 446.6,455.1 447.6,454.5 448.6,453.7 449.6,453.7 450.6,454.5 451.6,454.4 452.6,454.2 453.6,453.9 454.6,454.3 455.6,454.2 456.6,455.0 457.6,453.7 458.6,454.9 459.6,455.0 460.6,453.9 461.6,455.2 462.6,454.8 463.6,455.1 464.6,454.2 465.6,454.3 466.6,454.3 467.6,455.3 468.6,454.6 469.6,454.3 470.6,454.4 471.6,454.1 472.6,453.8 473.6,453.9 474.6,455.0 475.6,454.2 476.6,455.2 477.6,454.1 478.6,454.1 479.6,454.5 480.6,454.0 481.6,454.3 482.6,455.2 483.6,455.1 484.6,455.0 485.6,454.7 486.6,455.2 487.6,455.2 488.6,454.6 489.6,454.9 490.6,453.8 491.6,454.9 492.6,454.4 493.6,454.9 494.6,454.7 495.6,454.2 496.6,453.8 497.6,455.2 498.6,453.9 499.6,454.5 500.6,454.2 501.6,454.2 502.6,454.9 503.6,455.3 504.6,454.1 505.6,454.7 506.6,454.2 507.6,454.6 508.6,454.3 509.6,454.0 510.6,454.0 511.6,454.0 512.6,455.1 513.6,454.5 514.6,454.1 515.6,455.2 516.6,455.3 517.6,454.4 518.6,453.9 519.6,454.0 520.6,453.8 521.6,454.2 522.6,453.8 523.6,454.1 524.6,454.1 525.6,454.6 526.6,455.1 527.6,454.9 528.6,454.4 529.6,454.4 530.6,454.5 531.6,454.3 532.0,454.5" fill="none" stroke="#F78500" stroke-width="3.8" stroke-linejoin="round" stroke-linecap="butt"/>
<polyline points="53.4,454.4 54.4,454.1 55.4,454.3 56.4,454.9 57.4,454.2 58.4,454.5 59.4,454.6 60.4,454.8 61.4,454.3 62.4,454.3 63.4,454.3 64.4,454.4 65.4,454.5 66.4,454.9 67.4,454.8 68.4,454.8 69.4,454.1 70.4,454.1 71.4,454.7 72.4,454.8 73.4,454.5 74.4,454.6 75.4,454.1 76.4,454.4 77.4,454.8 78.4,454.8 79.4,454.8 80.4,454.9 81.4,454.3 82.4,454.2 83.4,454.2 84.4,454.5 85.4,454.6 86.4,454.9 87.4,454.7 88.4,454.6 89.4,454.7 90.4,454.5 91.4,454.5 92.4,454.1 93.4,454.7 94.4,454.3 95.4,454.8 96.4,454.6 97.4,454.3 98.4,454.2 99.4,454.3 100.4,454.6 101.4,454.7 102.4,454.2 103.4,454.2 104.4,454.5 105.4,454.6 106.4,454.4 107.4,454.3 108.4,454.6 109.4,454.1 110.4,454.3 111.4,454.5 112.4,454.9 113.4,454.6 114.4,454.8 115.4,454.5 116.4,454.3 117.4,454.3 118.4,454.9 119.4,454.7 120.4,454.3 121.4,454.1 122.4,454.5 123.4,454.6 124.4,454.4 125.4,454.3 126.4,454.6 127.4,454.8 128.4,454.3 129.4,454.1 130.4,454.4 131.4,454.4 132.4,454.6 133.4,454.3 134.4,454.7 135.4,454.7 136.4,454.5 137.4,454.3 138.4,454.9 139.4,454.3 140.4,454.8 141.4,454.3 142.4,454.3 143.4,454.7 144.4,454.3 145.4,454.9 146.4,454.5 147.4,454.2 148.4,454.3 149.4,454.4 150.4,454.6 151.4,454.9 152.4,454.2 153.4,454.4 154.4,454.3 155.4,454.9 156.4,454.2 157.4,454.1 158.4,454.1 159.4,454.4 160.4,454.8 161.4,454.8 162.4,454.7 163.4,454.9 164.4,454.8 165.4,454.4 166.4,454.2 167.4,454.8 168.4,454.7 169.4,454.1 170.4,454.6 171.4,454.4 172.4,454.4 173.4,454.4 174.4,454.2 175.4,454.1 176.4,454.3 177.4,454.4 178.4,454.9 179.4,454.2 180.4,454.9 181.4,454.3 182.4,454.4 183.4,454.8 184.4,454.8 185.4,454.4 186.4,453.8 187.4,454.0 188.4,453.7 189.4,453.9 190.4,453.1 191.4,453.0 192.4,453.2 193.4,452.3 194.4,452.4 195.4,452.5 196.4,452.2 197.4,451.4 198.4,451.0 199.4,450.7 200.4,451.0 201.4,450.1 202.4,450.1 203.4,449.9 204.4,449.1 205.4,448.7 206.4,448.9 207.4,448.3 208.4,447.7 209.4,447.7 210.4,447.0 211.4,446.7 212.4,446.1 213.4,446.4 214.4,446.2 215.4,445.6 216.4,445.6 217.4,444.5 218.4,444.4 219.4,444.3 220.4,444.3 221.4,444.0 222.4,443.3 223.4,442.8 224.4,442.7 225.4,442.5 226.4,442.7 227.4,441.9 228.4,442.2 229.4,441.9 230.4,441.8 231.4,441.6 232.4,441.2 233.4,440.8 234.4,440.6 235.4,440.5 236.4,440.7 237.4,440.0 238.4,439.9 239.4,440.2 240.4,439.7 241.4,439.4 242.4,439.2 243.4,439.5 244.4,439.3 245.4,439.7 246.4,439.6 247.4,439.6 248.4,439.0 249.4,438.8 250.4,438.8 251.4,439.2 252.4,439.5 253.4,439.3 254.4,439.3 255.4,439.5 256.4,439.7 257.4,439.9 258.4,440.0 259.4,440.2 260.4,440.1 261.4,439.8 262.4,440.5 263.4,440.2 264.4,440.6 265.4,440.6 266.4,441.1 267.4,440.8 268.4,441.0 269.4,441.2 270.4,441.3 271.4,441.9 272.4,441.7 273.4,441.6 274.4,441.8 275.4,442.3 276.4,442.0 277.4,441.9 278.4,442.4 279.4,442.3 280.4,442.7 281.4,442.1 282.4,442.4 283.4,442.8 284.4,442.8 285.4,442.9 286.4,442.2 287.4,442.4 288.4,442.3 289.4,442.3 290.4,443.0 291.4,442.7 292.4,442.9 293.4,442.5 294.4,442.9 295.4,442.6 296.4,442.5 297.4,442.9 298.4,443.0 299.4,442.4 300.4,442.8 301.4,442.8 302.4,442.5 303.4,442.7 304.4,442.5 305.4,442.6 306.4,442.7 307.4,443.0 308.4,443.1 309.4,442.7 310.4,442.6 311.4,443.0 312.4,443.5 313.4,443.2 314.4,443.5 315.4,443.6 316.4,444.2 317.4,444.2 318.4,444.0 319.4,444.2 320.4,444.6 321.4,444.9 322.4,445.1 323.4,444.8 324.4,445.0 325.4,445.6 326.4,445.6 327.4,445.6 328.4,445.8 329.4,446.5 330.4,446.2 331.4,446.6 332.4,446.6 333.4,446.9 334.4,447.4 335.4,447.7 336.4,447.4 337.4,447.5 338.4,448.1 339.4,447.9 340.4,448.0 341.4,448.9 342.4,448.8 343.4,449.3 344.4,449.2 345.4,449.8 346.4,449.7 347.4,449.7 348.4,449.8 349.4,450.5 350.4,450.8 351.4,451.2 352.4,450.8 353.4,451.5 354.4,451.5 355.4,451.9 356.4,451.8 357.4,452.2 358.4,452.7 359.4,453.3 360.4,452.9 361.4,453.5 362.4,454.0 363.4,454.4 364.4,454.1 365.4,454.2 366.4,454.9 367.4,454.9 368.4,454.5 369.4,454.1 370.4,454.8 371.4,454.4 372.4,454.8 373.4,454.6 374.4,454.8 375.4,454.2 376.4,454.7 377.4,454.3 378.4,454.4 379.4,454.8 380.4,454.8 381.4,454.2 382.4,454.3 383.4,454.4 384.4,454.5 385.4,454.4 386.4,454.2 387.4,454.3 388.4,454.7 389.4,454.8 390.4,454.1 391.4,454.5 392.4,454.7 393.4,454.1 394.4,454.8 395.4,454.2 396.4,454.6 397.4,454.5 398.4,454.6 399.4,454.3 400.4,454.4 401.4,454.6 402.4,454.4 403.4,454.6 404.4,454.5 405.4,454.5 406.4,454.1 407.4,454.6 408.4,454.5 409.4,454.3 410.4,454.7 411.4,454.7 412.4,454.5 413.4,454.2 414.4,454.5 415.4,454.2 416.4,454.2 417.4,454.4 418.4,454.2 419.4,454.5 420.4,454.5 421.4,454.1 422.4,454.6 423.4,454.2 424.4,454.7 425.4,454.7 426.4,454.5 427.4,454.1 428.4,454.5 429.4,454.4 430.4,454.9 431.4,454.2 432.4,454.8 433.4,454.9 434.4,454.7 435.4,454.8 436.4,454.3 437.4,454.9 438.4,454.5 439.4,454.9 440.4,454.8 441.4,454.2 442.4,454.7 443.4,454.8 444.4,454.2 445.4,454.4 446.4,454.7 447.4,454.2 448.4,454.8 449.4,454.3 450.4,454.8 451.4,454.2 452.4,454.5 453.4,454.8 454.4,454.3 455.4,454.3 456.4,454.5 457.4,454.4 458.4,454.1 459.4,454.2 460.4,454.2 461.4,454.8 462.4,454.6 463.4,454.8 464.4,454.2 465.4,454.7 466.4,454.2 467.4,454.5 468.4,454.6 469.4,454.4 470.4,454.8 471.4,454.5 472.4,454.6 473.4,454.8 474.4,454.2 475.4,454.9 476.4,454.6 477.4,454.4 478.4,454.7 479.4,454.3 480.4,454.9 481.4,454.6 482.4,454.4 483.4,454.7 484.4,454.5 485.4,454.2 486.4,454.7 487.4,454.1 488.4,454.8 489.4,454.3 490.4,454.6 491.4,454.9 492.4,454.6 493.4,454.6 494.4,454.4 495.4,454.1 496.4,454.1 497.4,454.2 498.4,454.6 499.4,454.4 500.4,454.5 501.4,454.8 502.4,454.2 503.4,454.3 504.4,454.6 505.4,454.1 506.4,454.1 507.4,454.4 508.4,454.2 509.4,454.4 510.4,454.3 511.4,454.6 512.4,454.6 513.4,454.3 514.4,454.6 515.4,454.5 516.4,454.2 517.4,454.8 518.4,454.3 519.4,454.2 520.4,454.2 521.4,454.6 522.4,454.8 523.4,454.7 524.4,454.4 525.4,454.3 526.4,454.1 527.4,454.6 528.4,454.5 529.4,454.4 530.4,454.6 531.4,454.5 532.0,454.5" fill="none" stroke="#12A3E2" stroke-width="2.8" stroke-linejoin="round" stroke-linecap="butt"/>
<polyline points="53.4,455.1 54.4,454.8 55.4,454.1 56.4,455.1 57.4,453.9 58.4,454.5 59.4,454.4 60.4,454.1 61.4,453.9 62.4,454.9 63.4,453.8 64.4,454.6 65.4,455.1 66.4,454.0 67.4,454.1 68.4,454.7 69.4,454.5 70.4,454.7 71.4,454.9 72.4,454.0 73.4,454.2 74.4,454.2 75.4,453.9 76.4,455.0 77.4,454.9 78.4,454.8 79.4,453.8 80.4,455.0 81.4,454.8 82.4,454.5 83.4,454.8 84.4,454.4 85.4,454.1 86.4,453.9 87.4,454.1 88.4,453.9 89.4,454.3 90.4,454.8 91.4,454.8 92.4,455.0 93.4,454.8 94.4,454.2 95.4,454.6 96.4,454.4 97.4,454.9 98.4,454.5 99.4,454.2 100.4,454.7 101.4,455.2 102.4,454.1 103.4,455.0 104.4,453.8 105.4,454.2 106.4,454.1 107.4,454.8 108.4,455.1 109.4,454.8 110.4,454.3 111.4,455.0 112.4,454.3 113.4,454.1 114.4,455.1 115.4,454.7 116.4,454.8 117.4,454.7 118.4,455.2 119.4,454.5 120.4,455.0 121.4,454.8 122.4,455.0 123.4,454.4 124.4,454.8 125.4,454.6 126.4,454.2 127.4,454.1 128.4,454.7 129.4,453.9 130.4,455.1 131.4,454.0 132.4,453.8 133.4,453.9 134.4,455.1 135.4,454.3 136.4,454.0 137.4,453.8 138.4,453.9 139.4,454.8 140.4,454.7 141.4,454.8 142.4,454.8 143.4,453.9 144.4,454.6 145.4,454.3 146.4,454.9 147.4,454.9 148.4,455.0 149.4,453.9 150.4,455.0 151.4,455.1 152.4,455.1 153.4,453.9 154.4,454.1 155.4,454.0 156.4,453.8 157.4,455.0 158.4,454.9 159.4,454.7 160.4,455.0 161.4,454.7 162.4,454.2 163.4,453.9 164.4,453.9 165.4,454.9 166.4,454.1 167.4,454.2 168.4,454.4 169.4,453.8 170.4,454.2 171.4,454.2 172.4,454.8 173.4,454.3 174.4,454.2 175.4,455.0 176.4,454.1 177.4,454.3 178.4,453.7 179.4,452.6 180.4,452.9 181.4,452.7 182.4,452.9 183.4,452.0 184.4,452.2 185.4,451.7 186.4,451.0 187.4,451.6 188.4,450.3 189.4,450.9 190.4,449.6 191.4,449.0 192.4,448.9 193.4,449.3 194.4,449.3 195.4,447.5 196.4,447.7 197.4,447.2 198.4,447.1 199.4,445.8 200.4,445.7 201.4,445.0 202.4,445.1 203.4,443.7 204.4,444.1 205.4,442.5 206.4,441.8 207.4,441.9 208.4,441.0 209.4,439.8 210.4,440.0 211.4,438.8 212.4,439.4 213.4,438.8 214.4,438.5 215.4,437.9 216.4,437.1 217.4,436.7 218.4,436.4 219.4,436.7 220.4,435.3 221.4,436.1 222.4,434.5 223.4,434.5 224.4,434.2 225.4,434.9 226.4,434.2 227.4,433.9 228.4,434.4 229.4,433.3 230.4,433.5 231.4,433.4 232.4,433.7 233.4,433.7 234.4,433.5 235.4,433.1 236.4,433.1 237.4,432.8 238.4,433.8 239.4,433.5 240.4,433.7 241.4,432.9 242.4,433.3 243.4,433.9 244.4,433.6 245.4,433.0 246.4,433.5 247.4,434.2 248.4,433.3 249.4,433.3 250.4,433.5 251.4,434.2 252.4,434.4 253.4,433.5 254.4,433.7 255.4,434.0 256.4,434.3 257.4,434.8 258.4,434.5 259.4,435.0 260.4,435.0 261.4,436.4 262.4,436.5 263.4,436.0 264.4,437.7 265.4,436.8 266.4,437.2 267.4,438.2 268.4,438.0 269.4,438.0 270.4,437.6 271.4,437.4 272.4,438.1 273.4,437.4 274.4,437.6 275.4,438.0 276.4,437.5 277.4,438.1 278.4,438.7 279.4,438.7 280.4,438.5 281.4,438.8 282.4,438.6 283.4,438.2 284.4,438.9 285.4,438.7 286.4,439.3 287.4,439.6 288.4,439.0 289.4,439.3 290.4,439.6 291.4,439.2 292.4,439.0 293.4,439.7 294.4,440.0 295.4,440.0 296.4,439.9 297.4,440.2 298.4,440.0 299.4,440.1 300.4,439.9 301.4,439.7 302.4,440.4 303.4,439.8 304.4,440.5 305.4,441.2 306.4,441.3 307.4,441.4 308.4,441.0 309.4,441.5 310.4,441.7 311.4,442.2 312.4,442.1 313.4,442.6 314.4,443.2 315.4,442.3 316.4,443.2 317.4,443.6 318.4,443.2 319.4,443.6 320.4,444.5 321.4,443.4 322.4,444.3 323.4,443.9 324.4,445.0 325.4,445.4 326.4,445.1 327.4,444.7 328.4,445.6 329.4,445.7 330.4,446.2 331.4,446.2 332.4,446.6 333.4,447.1 334.4,446.9 335.4,446.9 336.4,447.9 337.4,447.1 338.4,448.0 339.4,447.8 340.4,448.6 341.4,447.9 342.4,449.3 343.4,448.7 344.4,448.5 345.4,449.0 346.4,449.4 347.4,449.1 348.4,449.9 349.4,450.2 350.4,450.9 351.4,450.7 352.4,450.9 353.4,451.1 354.4,452.1 355.4,452.6 356.4,452.3 357.4,452.2 358.4,453.2 359.4,452.9 360.4,452.9 361.4,453.1 362.4,454.2 363.4,454.5 364.4,454.5 365.4,454.5 366.4,454.6 367.4,454.1 368.4,455.1 369.4,454.3 370.4,454.7 371.4,454.9 372.4,454.9 373.4,454.5 374.4,454.2 375.4,454.6 376.4,454.0 377.4,455.0 378.4,454.3 379.4,455.0 380.4,454.2 381.4,454.3 382.4,454.2 383.4,454.4 384.4,454.1 385.4,453.8 386.4,454.8 387.4,454.2 388.4,454.1 389.4,454.2 390.4,454.5 391.4,454.4 392.4,454.7 393.4,454.7 394.4,454.3 395.4,455.1 396.4,455.0 397.4,453.9 398.4,455.0 399.4,455.1 400.4,454.9 401.4,454.0 402.4,455.0 403.4,454.7 404.4,453.8 405.4,453.8 406.4,455.1 407.4,454.7 408.4,454.2 409.4,453.9 410.4,454.0 411.4,454.1 412.4,454.9 413.4,454.3 414.4,454.0 415.4,455.1 416.4,454.9 417.4,454.0 418.4,455.0 419.4,454.7 420.4,454.9 421.4,454.7 422.4,455.1 423.4,454.9 424.4,455.0 425.4,454.1 426.4,454.8 427.4,454.5 428.4,454.8 429.4,454.4 430.4,455.0 431.4,454.6 432.4,454.2 433.4,454.1 434.4,454.0 435.4,454.5 436.4,453.9 437.4,454.5 438.4,454.0 439.4,454.5 440.4,454.5 441.4,454.6 442.4,455.0 443.4,453.8 444.4,455.0 445.4,454.5 446.4,454.6 447.4,454.7 448.4,455.0 449.4,454.3 450.4,454.4 451.4,455.1 452.4,453.9 453.4,454.7 454.4,454.7 455.4,453.8 456.4,454.7 457.4,454.8 458.4,455.1 459.4,454.3 460.4,455.2 461.4,454.5 462.4,454.5 463.4,455.1 464.4,453.8 465.4,454.8 466.4,454.7 467.4,454.3 468.4,455.0 469.4,454.3 470.4,454.5 471.4,454.5 472.4,454.9 473.4,454.1 474.4,454.4 475.4,454.4 476.4,454.6 477.4,455.0 478.4,454.2 479.4,455.0 480.4,454.4 481.4,454.5 482.4,454.2 483.4,454.5 484.4,455.2 485.4,454.7 486.4,454.9 487.4,454.3 488.4,454.2 489.4,454.2 490.4,454.6 491.4,454.7 492.4,454.9 493.4,453.9 494.4,454.8 495.4,455.0 496.4,454.6 497.4,453.9 498.4,454.2 499.4,453.8 500.4,454.1 501.4,455.1 502.4,454.7 503.4,454.7 504.4,454.9 505.4,455.1 506.4,454.7 507.4,454.7 508.4,454.7 509.4,454.8 510.4,454.6 511.4,454.8 512.4,454.1 513.4,454.7 514.4,454.4 515.4,454.9 516.4,453.9 517.4,454.1 518.4,453.9 519.4,454.9 520.4,455.1 521.4,454.7 522.4,454.3 523.4,455.0 524.4,454.9 525.4,454.6 526.4,454.2 527.4,454.2 528.4,454.4 529.4,454.2 530.4,454.4 531.4,454.7 532.0,454.5" fill="none" stroke="#F02D55" stroke-width="3.8" stroke-linejoin="round" stroke-linecap="butt"/>
<polyline points="53.4,455.1 54.4,453.9 55.4,454.6 56.4,453.9 57.4,454.0 58.4,454.9 59.4,454.6 60.4,455.1 61.4,454.4 62.4,453.8 63.4,454.3 64.4,454.6 65.4,455.1 66.4,455.2 67.4,454.5 68.4,454.4 69.4,453.9 70.4,454.7 71.4,454.1 72.4,454.0 73.4,453.8 74.4,453.8 75.4,454.8 76.4,454.0 77.4,455.2 78.4,453.9 79.4,455.0 80.4,454.0 81.4,453.8 82.4,454.8 83.4,454.1 84.4,454.8 85.4,454.1 86.4,453.9 87.4,454.9 88.4,454.8 89.4,455.0 90.4,454.8 91.4,453.9 92.4,454.7 93.4,454.8 94.4,454.4 95.4,455.1 96.4,454.2 97.4,455.2 98.4,454.8 99.4,453.8 100.4,453.8 101.4,454.7 102.4,454.9 103.4,453.9 104.4,454.2 105.4,454.8 106.4,454.0 107.4,455.0 108.4,454.5 109.4,453.9 110.4,454.3 111.4,454.6 112.4,454.4 113.4,454.7 114.4,454.0 115.4,454.9 116.4,454.3 117.4,454.7 118.4,454.7 119.4,454.4 120.4,454.3 121.4,454.9 122.4,455.1 123.4,454.9 124.4,454.6 125.4,454.2 126.4,453.9 127.4,455.2 128.4,454.8 129.4,455.0 130.4,454.3 131.4,454.6 132.4,455.2 133.4,455.0 134.4,454.6 135.4,454.2 136.4,454.4 137.4,455.0 138.4,454.3 139.4,454.8 140.4,454.6 141.4,455.1 142.4,454.9 143.4,454.2 144.4,453.8 145.4,454.2 146.4,454.4 147.4,454.6 148.4,454.9 149.4,455.0 150.4,453.9 151.4,455.0 152.4,454.9 153.4,455.0 154.4,454.6 155.4,454.2 156.4,455.0 157.4,454.9 158.4,454.8 159.4,455.1 160.4,454.3 161.4,453.9 162.4,454.6 163.4,454.9 164.4,454.1 165.4,454.9 166.4,455.1 167.4,454.1 168.4,454.6 169.4,454.7 170.4,454.5 171.4,454.1 172.4,454.2 173.4,454.9 174.4,454.9 175.4,454.4 176.4,453.9 177.4,454.9 178.4,454.9 179.4,454.1 180.4,454.6 181.4,455.1 182.4,455.0 183.4,454.5 184.4,454.5 185.4,454.6 186.4,454.1 187.4,454.1 188.4,454.1 189.4,454.8 190.4,454.3 191.4,454.6 192.4,454.4 193.4,454.5 194.4,454.0 195.4,453.9 196.4,455.2 197.4,454.3 198.4,453.5 199.4,453.9 200.4,453.7 201.4,452.4 202.4,452.6 203.4,451.9 204.4,451.7 205.4,450.6 206.4,450.2 207.4,451.2 208.4,450.7 209.4,449.8 210.4,449.5 211.4,448.8 212.4,449.1 213.4,448.3 214.4,448.6 215.4,448.0 216.4,447.8 217.4,447.8 218.4,446.6 219.4,446.0 220.4,446.0 221.4,445.8 222.4,445.4 223.4,445.1 224.4,445.6 225.4,445.8 226.4,445.0 227.4,445.5 228.4,445.3 229.4,443.9 230.4,444.4 231.4,443.9 232.4,443.3 233.4,444.3 234.4,443.1 235.4,443.4 236.4,443.4 237.4,443.7 238.4,443.1 239.4,442.6 240.4,442.5 241.4,441.9 242.4,442.9 243.4,442.8 244.4,441.6 245.4,441.3 246.4,441.5 247.4,441.5 248.4,442.2 249.4,442.1 250.4,441.9 251.4,440.7 252.4,441.7 253.4,441.7 254.4,441.7 255.4,442.3 256.4,441.0 257.4,441.2 258.4,442.2 259.4,442.5 260.4,442.2 261.4,441.8 262.4,442.4 263.4,442.8 264.4,442.1 265.4,442.5 266.4,442.6 267.4,442.6 268.4,443.3 269.4,443.0 270.4,443.3 271.4,443.2 272.4,444.0 273.4,443.1 274.4,444.1 275.4,443.4 276.4,443.2 277.4,444.5 278.4,443.6 279.4,444.6 280.4,444.6 281.4,444.7 282.4,443.7 283.4,444.1 284.4,443.6 285.4,444.8 286.4,444.7 287.4,444.4 288.4,444.1 289.4,444.0 290.4,444.7 291.4,444.2 292.4,444.4 293.4,443.7 294.4,443.8 295.4,443.6 296.4,444.5 297.4,444.3 298.4,443.7 299.4,444.7 300.4,443.9 301.4,444.1 302.4,443.8 303.4,443.9 304.4,444.8 305.4,444.1 306.4,443.9 307.4,444.4 308.4,444.2 309.4,445.0 310.4,444.0 311.4,445.3 312.4,444.2 313.4,445.5 314.4,445.4 315.4,444.9 316.4,445.5 317.4,445.4 318.4,445.5 319.4,445.6 320.4,445.9 321.4,447.0 322.4,447.1 323.4,447.2 324.4,446.1 325.4,446.5 326.4,447.5 327.4,446.5 328.4,447.6 329.4,447.2 330.4,448.3 331.4,447.2 332.4,448.5 333.4,448.0 334.4,447.9 335.4,447.9 336.4,449.3 337.4,449.1 338.4,448.8 339.4,449.3 340.4,450.2 341.4,449.4 342.4,450.1 343.4,449.7 344.4,450.0 345.4,451.0 346.4,451.1 347.4,450.7 348.4,450.9 349.4,451.3 350.4,452.5 351.4,452.7 352.4,452.8 353.4,453.1 354.4,454.0 355.4,454.6 356.4,454.9 357.4,454.6 358.4,454.1 359.4,453.9 360.4,454.8 361.4,454.4 362.4,454.8 363.4,453.9 364.4,454.9 365.4,454.3 366.4,455.0 367.4,455.0 368.4,454.5 369.4,453.8 370.4,455.1 371.4,454.5 372.4,455.0 373.4,454.2 374.4,454.1 375.4,455.0 376.4,454.3 377.4,454.0 378.4,454.3 379.4,454.6 380.4,453.8 381.4,454.5 382.4,454.4 383.4,454.5 384.4,454.0 385.4,454.8 386.4,454.9 387.4,455.0 388.4,454.2 389.4,454.8 390.4,454.3 391.4,454.9 392.4,453.9 393.4,455.0 394.4,455.1 395.4,454.5 396.4,454.5 397.4,454.5 398.4,454.6 399.4,453.8 400.4,455.2 401.4,454.1 402.4,454.1 403.4,453.9 404.4,454.2 405.4,454.9 406.4,453.8 407.4,453.9 408.4,454.8 409.4,454.1 410.4,453.8 411.4,454.6 412.4,454.6 413.4,454.5 414.4,454.8 415.4,453.9 416.4,455.0 417.4,454.8 418.4,453.9 419.4,454.0 420.4,454.5 421.4,454.5 422.4,454.2 423.4,454.0 424.4,454.4 425.4,454.0 426.4,454.6 427.4,455.0 428.4,454.0 429.4,454.6 430.4,454.8 431.4,454.0 432.4,455.0 433.4,455.1 434.4,454.3 435.4,454.4 436.4,455.0 437.4,454.5 438.4,454.4 439.4,455.1 440.4,454.9 441.4,454.3 442.4,454.1 443.4,454.3 444.4,454.4 445.4,455.2 446.4,454.9 447.4,455.1 448.4,454.9 449.4,455.0 450.4,453.9 451.4,454.5 452.4,455.1 453.4,455.1 454.4,454.1 455.4,454.4 456.4,454.7 457.4,454.3 458.4,454.5 459.4,453.9 460.4,454.4 461.4,454.5 462.4,453.8 463.4,454.0 464.4,455.2 465.4,454.9 466.4,455.1 467.4,454.7 468.4,454.9 469.4,455.0 470.4,455.0 471.4,453.8 472.4,454.7 473.4,454.2 474.4,454.7 475.4,454.2 476.4,454.6 477.4,455.1 478.4,454.7 479.4,454.2 480.4,454.5 481.4,454.4 482.4,455.1 483.4,454.2 484.4,454.2 485.4,454.7 486.4,454.0 487.4,454.6 488.4,455.1 489.4,454.5 490.4,454.2 491.4,454.5 492.4,454.5 493.4,454.0 494.4,454.0 495.4,454.0 496.4,454.2 497.4,454.4 498.4,454.2 499.4,454.1 500.4,453.9 501.4,454.6 502.4,455.0 503.4,454.7 504.4,454.6 505.4,454.7 506.4,454.1 507.4,454.8 508.4,454.4 509.4,454.6 510.4,454.7 511.4,454.5 512.4,454.2 513.4,454.1 514.4,454.1 515.4,454.5 516.4,454.3 517.4,454.6 518.4,453.8 519.4,454.3 520.4,455.0 521.4,454.1 522.4,454.6 523.4,454.5 524.4,454.2 525.4,455.2 526.4,454.2 527.4,454.9 528.4,454.0 529.4,453.9 530.4,455.0 531.4,454.4 532.0,454.5" fill="none" stroke="#820AFA" stroke-width="3.9" stroke-linejoin="round" stroke-linecap="butt"/>
<g font-family="'Liberation Serif', 'DejaVu Serif', serif" font-weight="bold" fill="#000">
<text x="84.1" y="482.2" font-size="18.8" text-anchor="middle" textLength="21.2" lengthAdjust="spacingAndGlyphs">10</text>
<text x="148.2" y="482.2" font-size="18.8" text-anchor="middle" textLength="21.2" lengthAdjust="spacingAndGlyphs">20</text>
<text x="212.3" y="482.2" font-size="18.8" text-anchor="middle" textLength="21.2" lengthAdjust="spacingAndGlyphs">30</text>
<text x="276.4" y="482.2" font-size="18.8" text-anchor="middle" textLength="21.2" lengthAdjust="spacingAndGlyphs">40</text>
<text x="340.5" y="482.2" font-size="18.8" text-anchor="middle" textLength="21.2" lengthAdjust="spacingAndGlyphs">50</text>
<text x="404.7" y="482.2" font-size="18.8" text-anchor="middle" textLength="21.2" lengthAdjust="spacingAndGlyphs">60</text>
<text x="468.8" y="482.2" font-size="18.8" text-anchor="middle" textLength="21.2" lengthAdjust="spacingAndGlyphs">70</text>
<text x="532.9" y="482.2" font-size="18.8" text-anchor="middle" textLength="21.2" lengthAdjust="spacingAndGlyphs">80</text>
<g transform="translate(28.0,317.3) rotate(-90)" font-size="30.6"><text x="0.8" y="0" textLength="115.4" lengthAdjust="spacingAndGlyphs">Intensity</text><text x="122.8" y="0" textLength="64.4" lengthAdjust="spacingAndGlyphs">(a.u.)</text></g>
<text x="252.0" y="525.4" font-size="27.4" textLength="15.8" lengthAdjust="spacingAndGlyphs">2</text>
<text x="268.3" y="526.2" font-size="28" stroke="#000" stroke-width="0.55" font-weight="200" font-family="'DejaVu Sans Light', 'DejaVu Sans', 'Liberation Sans', sans-serif" textLength="23.4" lengthAdjust="spacingAndGlyphs">θ</text>
<text x="300.6" y="525.4" font-size="27.4">(</text>
<text x="308.6" y="529.7" font-size="36" font-weight="normal">°</text>
<text x="323.6" y="525.4" font-size="27.4">)</text>
<circle cx="339.5" cy="25.6" r="2.45" fill="#F78500"/>
<circle cx="348.8" cy="25.6" r="2.45" fill="#F78500"/>
<circle cx="358.2" cy="25.6" r="2.45" fill="#F78500"/>
<circle cx="367.5" cy="25.6" r="2.45" fill="#F78500"/>
<circle cx="376.8" cy="25.6" r="2.45" fill="#F78500"/>
<circle cx="386.1" cy="25.6" r="2.45" fill="#F78500"/>
<circle cx="395.5" cy="25.6" r="2.45" fill="#F78500"/>
<text x="404.2" y="33.6" font-size="21.7" letter-spacing="0.3">CMC/CS</text>
<circle cx="339.5" cy="54.8" r="2.45" fill="#12A3E2"/>
<circle cx="348.8" cy="54.8" r="2.45" fill="#12A3E2"/>
<circle cx="358.2" cy="54.8" r="2.45" fill="#12A3E2"/>
<circle cx="367.5" cy="54.8" r="2.45" fill="#12A3E2"/>
<circle cx="376.8" cy="54.8" r="2.45" fill="#12A3E2"/>
<circle cx="386.1" cy="54.8" r="2.45" fill="#12A3E2"/>
<circle cx="395.5" cy="54.8" r="2.45" fill="#12A3E2"/>
<text x="404.2" y="62.8" font-size="21.7" letter-spacing="0.3">CA30</text>
<circle cx="339.5" cy="84.0" r="2.45" fill="#F02D55"/>
<circle cx="348.8" cy="84.0" r="2.45" fill="#F02D55"/>
<circle cx="358.2" cy="84.0" r="2.45" fill="#F02D55"/>
<circle cx="367.5" cy="84.0" r="2.45" fill="#F02D55"/>
<circle cx="376.8" cy="84.0" r="2.45" fill="#F02D55"/>
<circle cx="386.1" cy="84.0" r="2.45" fill="#F02D55"/>
<circle cx="395.5" cy="84.0" r="2.45" fill="#F02D55"/>
<text x="404.2" y="92.0" font-size="21.7" letter-spacing="0.3">CA40</text>
<circle cx="339.5" cy="113.2" r="2.45" fill="#820AFA"/>
<circle cx="348.8" cy="113.2" r="2.45" fill="#820AFA"/>
<circle cx="358.2" cy="113.2" r="2.45" fill="#820AFA"/>
<circle cx="367.5" cy="113.2" r="2.45" fill="#820AFA"/>
<circle cx="376.8" cy="113.2" r="2.45" fill="#820AFA"/>
<circle cx="386.1" cy="113.2" r="2.45" fill="#820AFA"/>
<circle cx="395.5" cy="113.2" r="2.45" fill="#820AFA"/>
<text x="404.2" y="121.2" font-size="21.7" letter-spacing="0.3">CA50</text>
<line x1="337.5" y1="142.4" x2="398.2" y2="142.4" stroke="#F78500" stroke-width="3.8" stroke-linecap="round"/>
<text x="404.2" y="150.4" font-size="21.7" letter-spacing="0.3">CMC/CS sw</text>
<line x1="337.5" y1="171.6" x2="398.2" y2="171.6" stroke="#12A3E2" stroke-width="2.8" stroke-linecap="round"/>
<text x="404.2" y="179.6" font-size="21.7" letter-spacing="0.3">CA30 sw</text>
<line x1="337.5" y1="200.8" x2="398.2" y2="200.8" stroke="#F02D55" stroke-width="3.8" stroke-linecap="round"/>
<text x="404.2" y="208.8" font-size="21.7" letter-spacing="0.3">CA40 sw</text>
<line x1="337.5" y1="230.0" x2="398.2" y2="230.0" stroke="#820AFA" stroke-width="3.8" stroke-linecap="round"/>
<text x="404.2" y="238.0" font-size="21.7" letter-spacing="0.3">CA50 sw</text>
</g>
</svg>
</body></html>
